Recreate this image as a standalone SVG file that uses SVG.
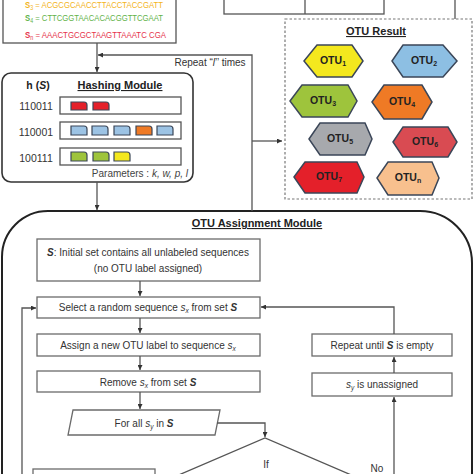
<svg xmlns="http://www.w3.org/2000/svg" width="474" height="474" viewBox="0 0 474 474">
<defs>
<style>
text{font-family:"Liberation Sans",Arial,sans-serif;fill:#333;}
.t{font-size:10px;text-anchor:middle;}
.title{font-size:11px;font-weight:bold;text-anchor:middle;text-decoration:underline;fill:#222;}
.box{fill:#fff;stroke:#6b6b6b;stroke-width:1.3;}
.hex{stroke:#3b4658;stroke-width:1.5;}
.hl{font-size:10.5px;font-weight:bold;text-anchor:middle;fill:#222;}
.tile{stroke:#3b4658;stroke-width:1.2;}
.bar{fill:#fff;stroke:#555;stroke-width:1.3;}
.con{fill:none;stroke:#555;stroke-width:1.3;}
.seq{font-size:9.5px;}
.row{font-size:10.5px;fill:#333;}
</style>
<marker id="ah" viewBox="0 0 10 10" refX="10" refY="5" markerWidth="5" markerHeight="5" markerUnits="userSpaceOnUse" orient="auto">
<path d="M0,0 L10,5 L0,10 z" fill="#333"/>
</marker>
</defs>
<rect width="474" height="474" fill="#fff"/>

<g id="sequences">
<rect x="3" y="-6" width="173" height="49" fill="#fff" stroke="#555" stroke-width="1.3"/>
<text class="seq" x="25" y="8" textLength="138" lengthAdjust="spacingAndGlyphs" style="fill:#f3b41b"><tspan font-weight="bold">S</tspan><tspan font-size="6.5" dy="2">3</tspan><tspan dy="-2"> = ACGCGCAACCTTACCTACCGATT</tspan></text>
<text class="seq" x="25" y="21" textLength="138" lengthAdjust="spacingAndGlyphs" style="fill:#62b34a"><tspan font-weight="bold">S</tspan><tspan font-size="6.5" dy="2">4</tspan><tspan dy="-2"> = CTTCGGTAACACACGGTTCGAAT</tspan></text>
<text class="seq" x="25" y="38" textLength="141" lengthAdjust="spacingAndGlyphs" style="fill:#e6334b"><tspan font-weight="bold">S</tspan><tspan font-size="6.5" dy="2">n</tspan><tspan dy="-2"> = AAACTGCGCTAAGTTAAATC CGA</tspan></text>
</g>

<g id="top-right-box">
<rect x="224" y="-6" width="160" height="20" fill="#fff" stroke="#555" stroke-width="1.3"/>
<line x1="305" y1="-6" x2="305" y2="14" stroke="#555" stroke-width="1.3"/>
</g>

<g id="hashing-module">
<rect x="2" y="73" width="191" height="109" rx="9" fill="#fff" stroke="#333" stroke-width="1.6"/>
<text x="38" y="89" font-size="10.5" font-weight="bold" text-anchor="middle" style="fill:#222">h (<tspan font-style="italic">S</tspan>)</text>
<text class="title" x="120" y="89">Hashing Module</text>
<text class="row" x="36" y="110" text-anchor="middle">110011</text>
<rect class="bar" x="60" y="97" width="121" height="17"/>
<text class="row" x="36" y="136" text-anchor="middle">110001</text>
<rect class="bar" x="60" y="122" width="121" height="17"/>
<text class="row" x="36" y="162" text-anchor="middle">100111</text>
<rect class="bar" x="60" y="148" width="121" height="17"/>
<path class="tile" fill="#e4202a" d="M71,102 h13 q3,0 3,3 v5 h-16 z"/>
<path class="tile" fill="#e4202a" d="M93,102 h13 q3,0 3,3 v5 h-16 z"/>
<path class="tile" fill="#9cc3e4" d="M71,126 h13 q3,0 3,3 v6 h-16 z"/>
<path class="tile" fill="#9cc3e4" d="M92,126 h13 q3,0 3,3 v6 h-16 z"/>
<path class="tile" fill="#9cc3e4" d="M114,126 h13 q3,0 3,3 v6 h-16 z"/>
<path class="tile" fill="#ef7a25" d="M136,126 h13 q3,0 3,3 v6 h-16 z"/>
<path class="tile" fill="#9cc3e4" d="M157,126 h13 q3,0 3,3 v6 h-16 z"/>
<path class="tile" fill="#9ec43c" d="M71,152 h13 q3,0 3,3 v6 h-16 z"/>
<path class="tile" fill="#9ec43c" d="M93,152 h13 q3,0 3,3 v6 h-16 z"/>
<path class="tile" fill="#f4e81e" d="M114,152 h13 q3,0 3,3 v6 h-16 z"/>
<text x="188" y="177" font-size="10" text-anchor="end" style="fill:#444">Parameters : <tspan font-style="italic">k, w, p, l</tspan></text>
</g>

<g id="otu-result">
<rect x="285" y="19" width="187" height="180" fill="#fff" stroke="#777" stroke-width="1.2" stroke-dasharray="2.5,2"/>
<text class="title" x="376" y="35">OTU Result</text>
<g id="otu1"><polygon class="hex" fill="#f4e81e" points="304,61 317,45 352,45 363,61 352,77 317,77"/><text class="hl" x="333" y="64">OTU<tspan font-size="7" dy="2">1</tspan></text></g>
<g id="otu2"><polygon class="hex" fill="#8dbfe3" points="392,61 403,45 443,45 457,61 443,77 403,77"/><text class="hl" x="424" y="64">OTU<tspan font-size="7" dy="2">2</tspan></text></g>
<g id="otu3"><polygon class="hex" fill="#9ec43c" points="290,101 302,85 348,85 357,101 348,117 302,117"/><text class="hl" x="323" y="104">OTU<tspan font-size="7" dy="2">3</tspan></text></g>
<g id="otu4"><polygon class="hex" fill="#ef7a25" points="372,102 384,85 422,85 432,102 422,119 384,119"/><text class="hl" x="402" y="105">OTU<tspan font-size="7" dy="2">4</tspan></text></g>
<g id="otu5"><polygon class="hex" fill="#a7a9ad" points="309,139 320,123 365,123 372,139 365,155 320,155"/><text class="hl" x="340" y="142">OTU<tspan font-size="7" dy="2">5</tspan></text></g>
<g id="otu6"><polygon class="hex" fill="#d94b52" points="393,142 403,127 448,127 457,142 448,157 403,157"/><text class="hl" x="425" y="145">OTU<tspan font-size="7" dy="2">6</tspan></text></g>
<g id="otu7"><polygon class="hex" fill="#e4202a" points="294,177 305,162 357,162 364,177 357,193 305,193"/><text class="hl" x="329" y="180">OTU<tspan font-size="7" dy="2">7</tspan></text></g>
<g id="otun"><polygon class="hex" fill="#f8c08e" points="377,178 388,162 432,162 439,178 432,195 388,195"/><text class="hl" x="408" y="181">OTU<tspan font-size="7" dy="2">n</tspan></text></g>
</g>

<text x="210" y="66" font-size="10" text-anchor="middle" style="fill:#333">Repeat “<tspan font-style="italic">l</tspan>’’ times</text>

<g id="otu-assignment-module">
<path d="M2,480 V257 A46,46 0 0 1 48,211 H420 A52,52 0 0 1 472,263 V480" fill="none" stroke="#222" stroke-width="2"/>
<text class="title" x="257" y="227">OTU Assignment Module</text>
</g>

<g id="initial-set">
<rect class="box" x="37" y="239" width="223" height="42"/>
<text class="t" x="148" y="256"><tspan font-weight="bold" font-style="italic">S</tspan>: Initial set contains all unlabeled sequences</text>
<text class="t" x="148" y="272">(no OTU label assigned)</text>
</g>
<g id="select">
<rect class="box" x="37" y="297" width="223" height="21"/>
<text class="t" x="148" y="311">Select a random sequence <tspan font-style="italic">s</tspan><tspan font-size="6.5" font-style="italic" dy="2">x</tspan><tspan dy="-2"> from set </tspan><tspan font-weight="bold" font-style="italic">S</tspan></text>
</g>
<g id="assign">
<rect class="box" x="37" y="334" width="223" height="22"/>
<text class="t" x="148" y="349">Assign a new OTU label to sequence <tspan font-style="italic">s</tspan><tspan font-size="6.5" font-style="italic" dy="2">x</tspan></text>
</g>
<g id="remove">
<rect class="box" x="37" y="371" width="223" height="21"/>
<text class="t" x="148" y="386">Remove <tspan font-style="italic">s</tspan><tspan font-size="6.5" font-style="italic" dy="2">x</tspan><tspan dy="-2"> from set </tspan><tspan font-weight="bold" font-style="italic">S</tspan></text>
</g>
<g id="for-all">
<polygon class="box" points="73,410 220,410 215,435 68,435"/>
<text class="t" x="144" y="427">For all <tspan font-style="italic">s</tspan><tspan font-size="6.5" font-style="italic" dy="2">y</tspan><tspan dy="-2"> in </tspan><tspan font-weight="bold" font-style="italic">S</tspan></text>
</g>
<g id="if-decision">
<polyline points="174,477 265,438 356,477" fill="none" stroke="#555" stroke-width="1.3"/>
<text class="t" x="266" y="468">If</text>
</g>
<text class="t" x="377" y="472">No</text>
<g id="bottom-box">
<rect class="box" x="33" y="469" width="122" height="20"/>
</g>
<g id="repeat-until">
<rect class="box" x="312" y="334" width="140" height="22"/>
<text class="t" x="382" y="349">Repeat until <tspan font-weight="bold" font-style="italic">S</tspan> is empty</text>
</g>
<g id="unassigned">
<rect class="box" x="312" y="373" width="140" height="23"/>
<text class="t" x="382" y="388"><tspan font-style="italic">s</tspan><tspan font-size="6.5" font-style="italic" dy="2">y</tspan><tspan dy="-2"> is unassigned</tspan></text>
</g>

<g id="connectors">
<path class="con" d="M97,43 V72" marker-end="url(#ah)"/>
<path class="con" d="M252,211 V55 H98" marker-end="url(#ah)"/>
<path class="con" d="M252,141 H282" marker-end="url(#ah)"/>
<path class="con" d="M455,-2 V19"/>
<path class="con" d="M97,182 V210" marker-end="url(#ah)"/>
<path class="con" d="M140,281 V296" marker-end="url(#ah)"/>
<path class="con" d="M140,318 V333" marker-end="url(#ah)"/>
<path class="con" d="M140,356 V370" marker-end="url(#ah)"/>
<path class="con" d="M140,392 V409" marker-end="url(#ah)"/>
<path class="con" d="M217,423 H265 V437" marker-end="url(#ah)"/>
<path class="con" d="M394,480 V397" marker-end="url(#ah)"/>
<path class="con" d="M394,373 V357" marker-end="url(#ah)"/>
<path class="con" d="M394,334 V307 H261" marker-end="url(#ah)"/>
<path class="con" d="M22,480 V308 H36" marker-end="url(#ah)"/>
</g>
</svg>
